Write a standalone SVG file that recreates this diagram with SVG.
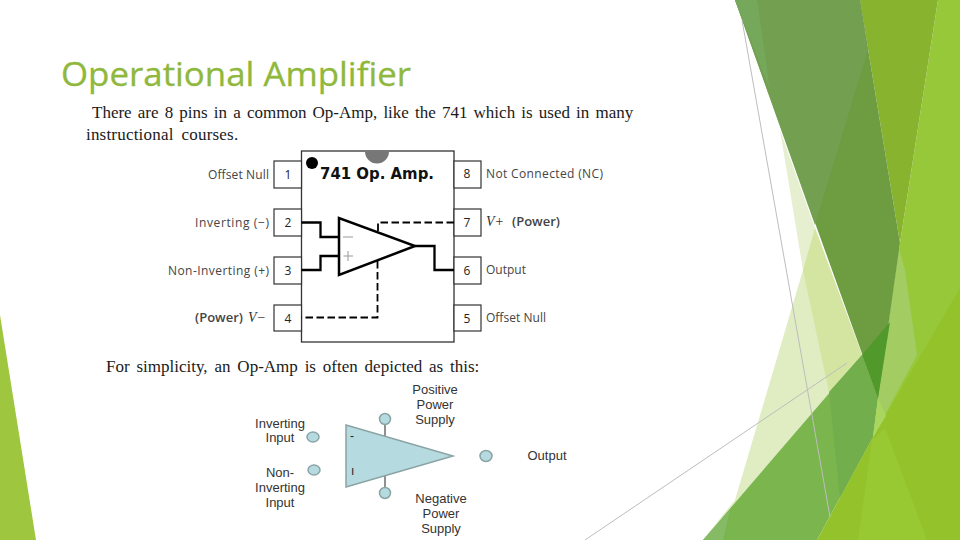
<svg xmlns="http://www.w3.org/2000/svg" width="960" height="540" viewBox="0 0 960 540">
<style>
.b{font-family:"Liberation Serif",serif;font-size:17px;fill:#1a1a1a}
.l{font-family:"Open Sans","Liberation Sans",sans-serif;font-size:12px;fill:#444}
.n{font-family:"Open Sans","Liberation Sans",sans-serif;font-size:12px;fill:#222;text-anchor:middle}
.m{font-family:"Liberation Serif",serif;font-size:14px;font-style:italic;fill:#333}
.s{font-family:"Liberation Sans",sans-serif;font-size:13px;fill:#333;text-anchor:middle}
.pin{fill:#fff;stroke:#333;stroke-width:1.2}
.w{fill:none;stroke:#000;stroke-width:2.300}
.d{fill:none;stroke:#000;stroke-width:1.800;stroke-dasharray:7.500 3.500}
.c{fill:#b5dbe0;stroke:#8aa3a5;stroke-width:1.5}
.g{fill:none;stroke:#bdbdbd;stroke-width:1}
</style>
<rect width="960" height="540" fill="#fff"/>
<g id="background">
<polygon points="0,315 36,540 0,540" fill="#9fc63f"/>
<polygon points="780,130 815,228 803,270" fill="#e6efd0"/>
<polygon points="815,228 803,270 735,500 703,540 862,355" fill="#e0ecc2"/>
<polygon points="815,228 862,355 829,392 803,270" fill="#d3e5a0"/>
<polygon points="703,540 862,355 878,398 873,437 817,540" fill="#7ab54e"/>
<polygon points="829,392 862,355 878,398 873,437 840,498" fill="#73ae4d"/>
<polygon points="703,540 730,510 723,540" fill="#85bb65"/>
<polygon points="938,0 960,0 960,290 876,437 878,398 900,243" fill="#97c83a"/>
<polygon points="899,248 905,270 917,355 873,437 878,398" fill="#a3cc63"/>
<polygon points="960,288 960,540 817,540 873,437" fill="#93c22a"/>
<polygon points="878,398 873,437 886,416" fill="#a8d65f"/>
<polygon points="872,440 885,428 927,540 858,540" fill="#98c932"/>
<polygon points="860,0 938,0 900,243" fill="#88b32f"/>
<polygon points="735,0 860,0 900,243 878,398" fill="#6d9c41"/>
<polygon points="735,0 860,0 868,50 815,225" fill="#739f50"/>
<polygon points="735,0 757,0 770,90" fill="#76a85c"/>
<polygon points="862,355 890,322 878,398" fill="#50992a"/>
<polyline class="g" points="742,20 830,517"/>
<polyline class="g" points="585,540 847,363"/>
</g>
<text id="title" x="61" y="86" font-family="Open Sans,sans-serif" font-size="32" fill="#8fb83c" stroke="#8fb83c" stroke-width="0.300" textLength="350" lengthAdjust="spacingAndGlyphs">Operational Amplifier</text>
<text class="b" x="92" y="118" word-spacing="1.900">There are 8 pins in a common Op-Amp, like the 741 which is used in many</text>
<text class="b" x="86" y="140" letter-spacing="0.200" word-spacing="3.500">instructional courses.</text>
<text class="b" x="106" y="372" word-spacing="2.600">For simplicity, an Op-Amp is often depicted as this:</text>
<g id="chip">
<rect x="301.5" y="151" width="152.5" height="191" fill="#fff" stroke="#333" stroke-width="1.3"/>
<path d="M365,151.6A12,12 0 0 0 389,151.6Z" fill="#777"/>
<circle cx="312" cy="163" r="6" fill="#000"/>
<text x="320" y="179" font-family="DejaVu Sans,sans-serif" font-weight="bold" font-size="16" fill="#111" textLength="114" lengthAdjust="spacingAndGlyphs">741 Op. Amp.</text>
</g>
<g id="pins">
<rect class="pin" x="274" y="161" width="27.500" height="27"/>
<rect class="pin" x="274" y="209" width="27.500" height="27"/>
<rect class="pin" x="274" y="257" width="27.500" height="27"/>
<rect class="pin" x="274" y="305" width="27.500" height="26"/>
<rect class="pin" x="454" y="161" width="27" height="27"/>
<rect class="pin" x="454" y="209" width="27" height="27"/>
<rect class="pin" x="454" y="257" width="27" height="27"/>
<rect class="pin" x="454" y="305" width="27" height="26"/>
<text class="n" x="288" y="179">1</text><text class="n" x="288" y="227">2</text><text class="n" x="288" y="275">3</text><text class="n" x="288" y="323">4</text>
<text class="n" x="467" y="178">8</text><text class="n" x="467" y="227">7</text><text class="n" x="467" y="275">6</text><text class="n" x="467" y="323">5</text>
</g>
<g id="connectors">
<polyline class="w" points="301.500,222.500 320.500,222.500 320.500,237 339,237"/>
<polyline class="w" points="301.500,270 320.500,270 320.500,256 339,256"/>
<polyline class="w" points="415,246 434.500,246 434.500,270 454,270"/>
<polyline class="d" points="454,222.500 378,222.500 378,231"/>
<polyline class="d" points="377.500,261 377.500,317.500 301.500,317.500"/>
<line x1="385" y1="424" x2="385" y2="436" stroke="#222"/>
<line x1="385" y1="476" x2="385" y2="488" stroke="#222"/>
</g>
<g id="opamp">
<polygon points="339,218 339,275 415,246" fill="#fff" stroke="#000" stroke-width="2.500"/>
<path d="M343,237H353M343.500,256H353M348,251V261" stroke="#999" stroke-width="1" fill="none"/>
</g>
<g id="labels">
<text class="l" x="208" y="179" textLength="61">Offset Null</text>
<text class="l" x="195" y="227" textLength="74">Inverting (−)</text>
<text class="l" x="168" y="274.500" textLength="101">Non-Inverting (+)</text>
<text class="l" x="195" y="322" font-weight="600" textLength="48" lengthAdjust="spacingAndGlyphs">(Power)</text>
<text class="m" x="248" y="322">V−</text>
<text class="l" x="486" y="178" textLength="117">Not Connected (NC)</text>
<text class="m" x="486" y="226">V+</text>
<text class="l" x="512" y="226" font-weight="600" textLength="48" lengthAdjust="spacingAndGlyphs">(Power)</text>
<text class="l" x="486" y="274" textLength="40">Output</text>
<text class="l" x="486" y="322" textLength="60">Offset Null</text>
</g>
<g id="simple-opamp">
<polygon class="c" points="346,425 346,487 453,456"/>
<circle class="c" cx="385" cy="419" r="5.500"/>
<circle class="c" cx="385" cy="493" r="5.500"/>
<ellipse class="c" cx="313" cy="437" rx="6" ry="5"/>
<ellipse class="c" cx="314" cy="470" rx="6" ry="5"/>
<ellipse class="c" cx="486" cy="456" rx="6" ry="5.500"/>
<text x="350" y="440" font-family="Liberation Sans,sans-serif" font-size="12" fill="#222">-</text>
<text x="351" y="475" font-family="Liberation Sans,sans-serif" font-size="12" fill="#222">ı</text>
</g>
<g id="simple-labels">
<text class="s"><tspan x="280" y="428">Inverting</tspan><tspan x="280" y="442">Input</tspan></text>
<text class="s"><tspan x="280" y="477">Non-</tspan><tspan x="280" y="492">Inverting</tspan><tspan x="280" y="507">Input</tspan></text>
<text class="s"><tspan x="435" y="394">Positive</tspan><tspan x="435" y="409">Power</tspan><tspan x="435" y="424">Supply</tspan></text>
<text class="s"><tspan x="441" y="503">Negative</tspan><tspan x="441" y="518">Power</tspan><tspan x="441" y="533">Supply</tspan></text>
<text class="s" x="547" y="460">Output</text>
</g>
</svg>
